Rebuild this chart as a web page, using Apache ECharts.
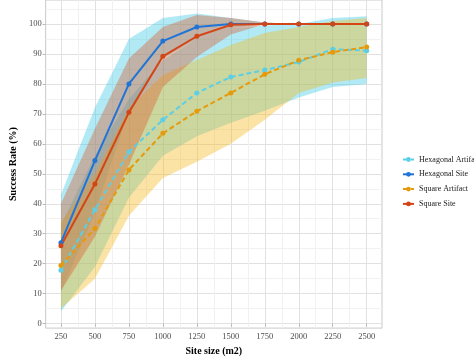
<!DOCTYPE html>
<html><head><meta charset="utf-8">
<script src="https://cdn.jsdelivr.net/npm/echarts@6/dist/echarts.min.js"></script>
<style>html,body{margin:0;padding:0;background:#fff}#c{width:474px;height:361px}</style>
</head><body><div id="c"></div>
<script>
const sizes = [250, 500, 750, 1000, 1250, 1500, 1750, 2000, 2250, 2500];
const xTicks = [250, 500, 750, 1000, 1250, 1500, 1750, 2000, 2250, 2500];
const xMinor = [375, 625, 875, 1125, 1375, 1625, 1875, 2125, 2375];
const yTicks = [0, 10, 20, 30, 40, 50, 60, 70, 80, 90, 100];
const yMinor = [5, 15, 25, 35, 45, 55, 65, 75, 85, 95, 105];
const seriesNames = ['Hexagonal Artifact', 'Hexagonal Site', 'Square Artifact', 'Square Site'];

const hexArtMean = [17.8, 38, 57.3, 68, 77, 82.3, 84.6, 87.3, 91.6, 91.1];
const hexArtLo   = [4, 19, 42, 56, 62.5, 67, 71, 75.5, 79, 80];
const hexArtHi   = [33, 56, 75, 88, 95, 98.5, 99.5, 100, 102, 102.6];
const hexSiteMean = [27, 54.4, 80, 94.3, 99, 100, 100, 100, 100, 100];
const hexSiteLo   = [10.5, 37, 71, 88.5, 95, 98.5, 100, 100, 100, 100];
const hexSiteHi   = [43, 72, 95, 102, 103.5, 102, 100.5, 100, 100, 100];
const sqArtMean = [19.4, 31.7, 51.3, 63.5, 70.9, 77, 83.2, 87.9, 90.6, 92.3];
const sqArtLo   = [5, 15, 36, 48.6, 54, 60, 68, 77, 80.5, 82];
const sqArtHi   = [34, 50, 72, 83, 88, 93, 97, 99, 101, 102];
const sqSiteMean = [26, 46.6, 70.5, 89.2, 95.9, 99.7, 100, 100, 100, 100];
const sqSiteLo   = [11, 29, 53, 79, 89, 96.5, 100, 100, 100, 100];
const sqSiteHi   = [40, 65, 88.5, 99, 103, 102, 100.5, 100, 100, 100];

const FONT = "'Liberation Serif', 'Times New Roman', serif";
const lineColors = ['#5ccfe6', '#1f74d6', '#e59a0c', '#d34515'];
const fillColors = ['rgba(60,200,230,0.40)', 'rgba(60,200,230,0.40)', 'rgba(245,185,30,0.40)', 'rgba(220,90,40,0.38)'];

function band(name, lo, hi, color) {
  return {
    type: 'custom', name: name, silent: true, z: 1, clip: true,
    data: sizes.map((s, i) => [s, lo[i], hi[i]]),
    encode: { x: 0, y: [1, 2] },
    renderItem: function (params, api) {
      if (params.dataIndex !== 0) return null;
      const pts = [];
      for (let i = 0; i < sizes.length; i++) pts.push(api.coord([sizes[i], hi[i]]));
      for (let i = sizes.length - 1; i >= 0; i--) pts.push(api.coord([sizes[i], lo[i]]));
      return { type: 'polygon', shape: { points: pts }, style: { fill: color } };
    }
  };
}
function line(name, mean, color, dashed) {
  return {
    type: 'line', name: name, z: 3,
    data: sizes.map((s, i) => [s, mean[i]]),
    symbol: 'circle', symbolSize: 5, showSymbol: true,
    lineStyle: { color: color, width: 2, type: dashed ? [5, 3] : 'solid' },
    itemStyle: { color: color }
  };
}
const plain = v => String(v);

const chart = echarts.init(document.getElementById('c'), null, { renderer: 'canvas' });
chart.setOption({
  animation: false,
  backgroundColor: '#fff',
  grid: { left: 28, right: 92, top: 0, bottom: 24, show: true, borderColor: '#c9c9c9', borderWidth: 1, backgroundColor: 'transparent' },
  legend: {
    orient: 'vertical', left: 397, top: 149.5, itemWidth: 11, itemHeight: 6, itemGap: 4.8,
    data: seriesNames,
    textStyle: { fontFamily: FONT, fontSize: 8, color: '#1a1a1a', lineHeight: 10 }
  },
  xAxis: [{
    type: 'value', min: 137.5, max: 2612.5,
    axisLine: { show: false },
    axisTick: { show: true, customValues: xTicks, length: 3, lineStyle: { color: '#b8b8b8' } },
    axisLabel: { customValues: xTicks, formatter: plain, fontFamily: FONT, fontSize: 8.5, color: '#4d4d4d', margin: 4 },
    splitLine: { show: true, lineStyle: { color: '#e1e1e1', width: 1 } },
    name: 'Site size (m2)', nameLocation: 'middle', nameGap: 17,
    nameTextStyle: { fontFamily: FONT, fontWeight: 'bold', fontSize: 10, color: '#000' }
  }, {
    type: 'value', min: 137.5, max: 2612.5, position: 'bottom',
    axisLine: { show: false },
    axisTick: { show: false, customValues: xMinor },
    axisLabel: { show: false, customValues: xMinor },
    splitLine: { show: true, lineStyle: { color: '#f1f1f1', width: 1 } }
  }],
  yAxis: [{
    type: 'value', min: -1.5, max: 108,
    axisLine: { show: false },
    axisTick: { show: true, customValues: yTicks, length: 3, lineStyle: { color: '#b8b8b8' } },
    axisLabel: { customValues: yTicks, formatter: plain, fontFamily: FONT, fontSize: 8.5, color: '#4d4d4d', margin: 4 },
    splitLine: { show: true, lineStyle: { color: '#e1e1e1', width: 1 } },
    name: 'Success Rate (%)', nameLocation: 'middle', nameGap: 18, nameRotate: 90,
    nameTextStyle: { fontFamily: FONT, fontWeight: 'bold', fontSize: 10, color: '#000' }
  }, {
    type: 'value', min: -1.5, max: 108, position: 'left',
    axisLine: { show: false },
    axisTick: { show: false, customValues: yMinor },
    axisLabel: { show: false, customValues: yMinor },
    splitLine: { show: true, lineStyle: { color: '#f1f1f1', width: 1 } }
  }],
  series: [
    band('band-ha', hexArtLo, hexArtHi, fillColors[0]),
    band('band-hs', hexSiteLo, hexSiteHi, fillColors[1]),
    band('band-sa', sqArtLo, sqArtHi, fillColors[2]),
    band('band-ss', sqSiteLo, sqSiteHi, fillColors[3]),
    line(seriesNames[0], hexArtMean, lineColors[0], true),
    line(seriesNames[1], hexSiteMean, lineColors[1], false),
    line(seriesNames[2], sqArtMean, lineColors[2], true),
    line(seriesNames[3], sqSiteMean, lineColors[3], false)
  ]
});
</script></body></html>
